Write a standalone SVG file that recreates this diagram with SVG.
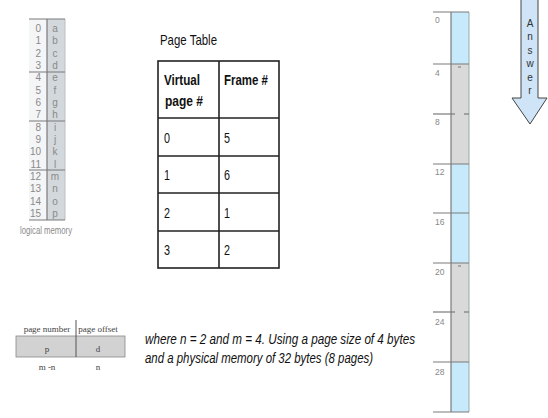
<svg xmlns="http://www.w3.org/2000/svg" width="548" height="418" viewBox="0 0 548 418">
<style>
.lm{font-family:"Liberation Sans",Arial,sans-serif;font-size:10px;fill:#8a8a8a}
.lmc{font-family:"Liberation Sans",Arial,sans-serif;font-size:10px;fill:#8a8a8a;text-anchor:middle}
.pm{font-family:"Liberation Sans",Arial,sans-serif;font-size:8.5px;fill:#888}
.line{stroke:#7a7a7a;stroke-width:1.2}
.tb{font-family:"Liberation Sans",Arial,sans-serif;font-size:14px;font-weight:bold;fill:#111}
.tn{font-family:"Liberation Sans",Arial,sans-serif;font-size:15px;fill:#111}
.ser{font-family:"Liberation Serif","Times New Roman",serif;font-size:9px;fill:#444;text-anchor:middle}
.desc{font-family:"Liberation Sans",Arial,sans-serif;font-size:14.5px;font-style:italic;fill:#111}
.cell{fill:none;stroke:#222;stroke-width:1.6}
.ans{font-family:"Liberation Sans",Arial,sans-serif;font-size:10px;fill:#333;text-anchor:middle}
</style>
<rect width="548" height="418" fill="#fff"/>
<g id="connectors"/>

<g id="logical-memory">
<rect x="29" y="19" width="36" height="201" fill="#f4f5f6"/>
<rect x="47" y="19" width="18" height="201" fill="#d3d8dc"/>
<line x1="47" y1="19" x2="47" y2="220" class="line"/>
<line x1="65" y1="19" x2="65" y2="220" stroke="#b9bec2" stroke-width="1"/>
<line x1="29" y1="19" x2="65" y2="19" class="line"/>
<line x1="29" y1="72" x2="65" y2="72" class="line"/>
<line x1="29" y1="121" x2="65" y2="121" class="line"/>
<line x1="29" y1="170" x2="65" y2="170" class="line"/>
<line x1="29" y1="220" x2="65" y2="220" class="line"/>
<g text-anchor="end" class="lm">
<text x="41" y="32">0</text><text x="41" y="44">1</text><text x="41" y="57">2</text><text x="41" y="69">3</text>
<text x="41" y="81">4</text><text x="41" y="94">5</text><text x="41" y="106">6</text><text x="41" y="118">7</text>
<text x="41" y="131">8</text><text x="41" y="143">9</text><text x="41" y="155">10</text><text x="41" y="168">11</text>
<text x="41" y="180">12</text><text x="41" y="192">13</text><text x="41" y="205">14</text><text x="41" y="217">15</text>
</g>
<g class="lmc">
<text x="55" y="32">a</text><text x="55" y="44">b</text><text x="55" y="57">c</text><text x="55" y="69">d</text>
<text x="55" y="81">e</text><text x="55" y="94">f</text><text x="55" y="106">g</text><text x="55" y="118">h</text>
<text x="55" y="131">i</text><text x="55" y="143">j</text><text x="55" y="155">k</text><text x="55" y="168">l</text>
<text x="55" y="180">m</text><text x="55" y="192">n</text><text x="55" y="205">o</text><text x="55" y="217">p</text>
</g>
<text x="20" y="234" class="lm" textLength="52" lengthAdjust="spacingAndGlyphs">logical memory</text>
</g>

<g id="page-table">
<text x="160" y="45" class="tn" textLength="57" lengthAdjust="spacingAndGlyphs">Page Table</text>
<rect x="158" y="61" width="121" height="207" class="cell"/>
<line x1="219" y1="61" x2="219" y2="268" class="cell"/>
<line x1="158" y1="118" x2="279" y2="118" class="cell"/>
<line x1="158" y1="156" x2="279" y2="156" class="cell"/>
<line x1="158" y1="193" x2="279" y2="193" class="cell"/>
<line x1="158" y1="231" x2="279" y2="231" class="cell"/>
<text x="164" y="85" class="tb" textLength="36" lengthAdjust="spacingAndGlyphs">Virtual</text>
<text x="165" y="106" class="tb" textLength="38" lengthAdjust="spacingAndGlyphs">page #</text>
<text x="224" y="85" class="tb" textLength="44" lengthAdjust="spacingAndGlyphs">Frame #</text>
<text x="164" y="143" class="tn" textLength="6" lengthAdjust="spacingAndGlyphs">0</text>
<text x="224" y="143" class="tn" textLength="6" lengthAdjust="spacingAndGlyphs">5</text>
<text x="164" y="180" class="tn" textLength="6" lengthAdjust="spacingAndGlyphs">1</text>
<text x="224" y="180" class="tn" textLength="6" lengthAdjust="spacingAndGlyphs">6</text>
<text x="164" y="218" class="tn" textLength="6" lengthAdjust="spacingAndGlyphs">2</text>
<text x="224" y="218" class="tn" textLength="6" lengthAdjust="spacingAndGlyphs">1</text>
<text x="164" y="255" class="tn" textLength="6" lengthAdjust="spacingAndGlyphs">3</text>
<text x="224" y="255" class="tn" textLength="6" lengthAdjust="spacingAndGlyphs">2</text>
</g>

<g id="address-format">
<text x="47" y="332" class="ser">page number</text>
<text x="98" y="332" class="ser">page offset</text>
<rect x="16" y="336" width="109" height="21" fill="#d2d2d2" stroke="#888" stroke-width="0.8"/>
<line x1="76" y1="320" x2="76" y2="357" stroke="#555" stroke-width="1"/>
<text x="47" y="352" class="ser">p</text>
<text x="98" y="352" class="ser">d</text>
<text x="47" y="370" class="ser">m -n</text>
<text x="98" y="370" class="ser">n</text>
</g>

<g id="description">
<text x="145" y="344" class="desc" textLength="270" lengthAdjust="spacingAndGlyphs">where n = 2 and m = 4. Using a page size of 4 bytes</text>
<text x="145" y="363" class="desc" textLength="228" lengthAdjust="spacingAndGlyphs">and a physical memory of 32 bytes (8 pages)</text>
</g>

<g id="physical-memory">
<rect x="451" y="12" width="18" height="52" fill="#c6eafb"/>
<rect x="451" y="64" width="18" height="100" fill="#d9d9d9"/>
<rect x="451" y="164" width="18" height="99" fill="#c6eafb"/>
<rect x="451" y="263" width="18" height="99" fill="#d9d9d9"/>
<rect x="451" y="362" width="18" height="50" fill="#c6eafb"/>
<line x1="451" y1="12" x2="451" y2="412" class="line"/>
<line x1="469" y1="12" x2="469" y2="412" stroke="#9aa" stroke-width="1"/>
<line x1="433" y1="12" x2="469" y2="12" class="line"/>
<line x1="433" y1="64" x2="469" y2="64" class="line"/>
<line x1="433" y1="114" x2="455" y2="114" class="line"/>
<line x1="464" y1="114" x2="469" y2="114" class="line"/>
<line x1="433" y1="164" x2="469" y2="164" class="line"/>
<line x1="433" y1="213" x2="469" y2="213" class="line"/>
<line x1="433" y1="263" x2="469" y2="263" class="line"/>
<line x1="433" y1="312" x2="455" y2="312" class="line"/>
<line x1="464" y1="312" x2="469" y2="312" class="line"/>
<line x1="433" y1="362" x2="469" y2="362" class="line"/>
<line x1="433" y1="412" x2="469" y2="412" class="line"/>
<line x1="458" y1="67" x2="461" y2="67" stroke="#777"/>
<line x1="458" y1="266" x2="461" y2="266" stroke="#777"/>
<text x="435" y="23" class="pm">0</text>
<text x="435" y="76" class="pm">4</text>
<text x="435" y="125" class="pm">8</text>
<text x="435" y="175" class="pm">12</text>
<text x="435" y="225" class="pm">16</text>
<text x="435" y="275" class="pm">20</text>
<text x="435" y="325" class="pm">24</text>
<text x="435" y="375" class="pm">28</text>
</g>

<g id="answer-arrow">
<polygon points="521,-1 538,-1 538,98 547,98 530,124 512,98 521,98" fill="#cfe4f6" stroke="#444" stroke-width="1"/>
<text x="530" y="27" class="ans">A</text>
<text x="530" y="40" class="ans">n</text>
<text x="530" y="54" class="ans">s</text>
<text x="530" y="67" class="ans">w</text>
<text x="530" y="81" class="ans">e</text>
<text x="530" y="94" class="ans">r</text>
</g>
</svg>
